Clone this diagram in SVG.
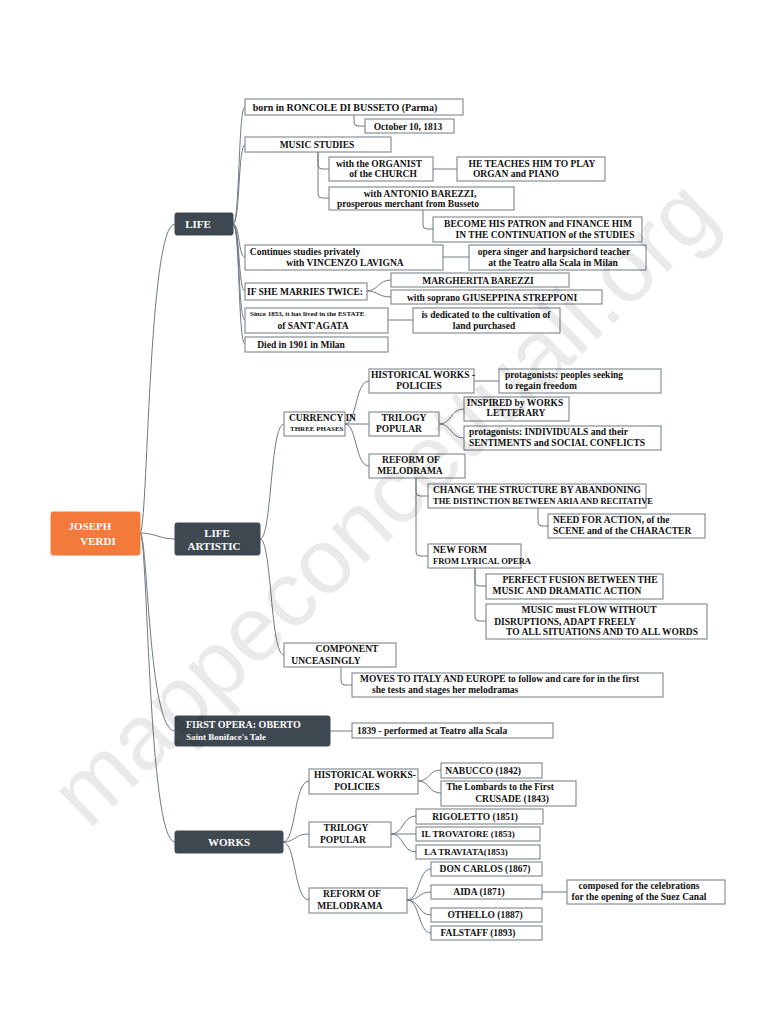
<svg xmlns="http://www.w3.org/2000/svg" width="768" height="1024" viewBox="0 0 768 1024">
<style>
.b{fill:#fff;stroke:#6e7a82;stroke-width:1}
.d{fill:#3e4850;stroke:#3e4850}
.o{fill:#f47a3c;stroke:#f47a3c}
text{font-family:"Liberation Serif",serif;font-weight:bold;font-size:9.5px;fill:#111;text-anchor:middle}
.w{fill:#fff;font-size:11px}
.l{text-anchor:start}
.s{font-size:7px}
#conn path{fill:none;stroke:#6e7a82;stroke-width:1}
</style>
<rect width="768" height="1024" fill="#fff"/>
<g id="conn">
<path d="M140 533 C148 533 148 224 175 224"/>
<path d="M140 533 C155 533 160 539 175 539"/>
<path d="M140 533 C148 533 148 731 175 731"/>
<path d="M140 533 C148 533 148 842 175 842"/>
<path d="M233 224 C240 224 238 107 245 107"/>
<path d="M233 224 C240 224 238 145 245 145"/>
<path d="M233 224 C240 224 238 257 245 257"/>
<path d="M233 224 C240 224 238 291 245 291"/>
<path d="M233 224 C240 224 238 320 245 320"/>
<path d="M233 224 C240 224 238 344 245 344"/>
<path d="M354 115 V122 Q354 126 358 126 H365"/>
<path d="M318 152 V165 Q318 169 322 169 H329"/>
<path d="M318 152 V194 Q318 198 322 198 H329"/>
<path d="M423 210 V225 Q423 229 427 229 H433"/>
<path d="M433 169 H457"/>
<path d="M443 257 H469"/>
<path d="M367 291 C378 291 378 280 391 280"/>
<path d="M367 291 C378 291 378 297 391 297"/>
<path d="M388 320 H413"/>
<path d="M260 539 C272 539 270 424 284 424"/>
<path d="M260 539 C272 539 270 655 284 655"/>
<path d="M345 424 C357 424 355 381 369 381"/>
<path d="M345 424 H369"/>
<path d="M345 424 C357 424 355 466 369 466"/>
<path d="M474 381 H499"/>
<path d="M439 424 C452 424 450 409 464 409"/>
<path d="M439 424 C452 424 450 438 464 438"/>
<path d="M416 478 V492 Q416 496 420 496 H428"/>
<path d="M416 478 V552 Q416 556 420 556 H428"/>
<path d="M538 508 V522 Q538 526 542 526 H548"/>
<path d="M475 568 V582 Q475 586 479 586 H486"/>
<path d="M475 568 V617 Q475 621 479 621 H486"/>
<path d="M341 667 V681 Q341 685 345 685 H352"/>
<path d="M330 731 H352"/>
<path d="M283 842 C296 842 294 781 309 781"/>
<path d="M283 842 C296 842 294 834 309 834"/>
<path d="M283 842 C296 842 294 900 309 900"/>
<path d="M418 781 C430 781 428 770 441 770"/>
<path d="M418 781 C430 781 428 793 441 793"/>
<path d="M391 834 C404 834 402 816 416 816"/>
<path d="M391 834 H416"/>
<path d="M391 834 C404 834 402 852 416 852"/>
<path d="M407 900 C420 900 418 869 431 869"/>
<path d="M407 900 C420 900 418 892 431 892"/>
<path d="M407 900 C420 900 418 915 431 915"/>
<path d="M407 900 C420 900 418 933 431 933"/>
<path d="M542 892 H567"/>
</g>
<g id="root"><rect class="o" x="51" y="512" width="89" height="43" rx="2"/><text class="w" x="90" y="530">JOSEPH</text><text class="w" x="98" y="545">VERDI</text></g>
<g id="life"><rect class="d" x="175" y="213" width="58" height="22" rx="2"/><text class="w" x="198" y="228">LIFE</text></g>
<g id="artistic"><rect class="d" x="175" y="523" width="85" height="32" rx="2"/><text class="w" x="217" y="537">LIFE</text><text class="w" x="214" y="550">ARTISTIC</text></g>
<g id="first"><rect class="d" x="175" y="716" width="155" height="30" rx="2"/><text class="w l" x="186" y="728" style="font-size:10px">FIRST OPERA: OBERTO</text><text class="w l" x="186" y="740" style="font-size:9px">Saint Boniface's Tale</text></g>
<g id="works"><rect class="d" x="175" y="831" width="108" height="22" rx="2"/><text class="w" x="229" y="846">WORKS</text></g>

<g id="born"><rect class="b" x="245" y="99" width="218" height="16"/><text x="345" y="111" style="font-size:10px">born in RONCOLE DI BUSSETO (Parma)</text></g>
<g id="oct"><rect class="b" x="365" y="119" width="89" height="14"/><text x="408" y="130">October 10, 1813</text></g>
<g id="music"><rect class="b" x="245" y="137" width="146" height="15"/><text x="317" y="148">MUSIC STUDIES</text></g>
<g id="organist"><rect class="b" x="329" y="157" width="104" height="24"/><text x="379" y="167">with the ORGANIST</text><text x="383" y="177">of the CHURCH</text></g>
<g id="teaches"><rect class="b" x="457" y="157" width="148" height="24"/><text x="532" y="167">HE TEACHES HIM TO PLAY</text><text x="516" y="177">ORGAN and PIANO</text></g>
<g id="antonio"><rect class="b" x="329" y="187" width="185" height="23"/><text x="420" y="197">with ANTONIO BAREZZI,</text><text x="408" y="207">prosperous merchant from Busseto</text></g>
<g id="patron"><rect class="b" x="433" y="217" width="209" height="25"/><text x="538" y="227">BECOME HIS PATRON and FINANCE HIM</text><text x="545" y="238">IN THE CONTINUATION of the STUDIES</text></g>
<g id="cont"><rect class="b" x="245" y="245" width="198" height="25"/><text x="305" y="255">Continues studies privately</text><text x="345" y="266">with VINCENZO LAVIGNA</text></g>
<g id="singer"><rect class="b" x="469" y="245" width="177" height="25"/><text x="554" y="255">opera singer and harpsichord teacher</text><text x="553" y="266">at the Teatro alla Scala in Milan</text></g>
<g id="ifshe"><rect class="b" x="245" y="283" width="122" height="17"/><text x="305" y="295">IF SHE MARRIES TWICE:</text></g>
<g id="marg"><rect class="b" x="391" y="273" width="178" height="14"/><text x="478" y="284">MARGHERITA BAREZZI</text></g>
<g id="gius"><rect class="b" x="391" y="290" width="211" height="14"/><text x="492" y="301">with soprano GIUSEPPINA STREPPONI</text></g>
<g id="since"><rect class="b" x="245" y="308" width="143" height="25"/><text class="l s" x="250" y="316">Since 1853, it has lived in the ESTATE</text><text x="313" y="329">of SANT'AGATA</text></g>
<g id="dedic"><rect class="b" x="413" y="308" width="147" height="25"/><text x="486" y="318">is dedicated to the cultivation of</text><text x="484" y="329">land purchased</text></g>
<g id="died"><rect class="b" x="245" y="337" width="143" height="15"/><text x="301" y="348">Died in 1901 in Milan</text></g>

<g id="currency"><rect class="b" x="284" y="412" width="61" height="24"/><text class="l" x="289" y="421">CURRENCY IN</text><text class="l s" x="290" y="431">THREE PHASES</text></g>
<g id="hist"><rect class="b" x="369" y="369" width="105" height="24"/><text x="423" y="378">HISTORICAL WORKS -</text><text x="419" y="389">POLICIES</text></g>
<g id="peoples"><rect class="b" x="499" y="369" width="162" height="24"/><text class="l" x="505" y="378">protagonists: peoples seeking</text><text class="l" x="505" y="389">to regain freedom</text></g>
<g id="trilogy"><rect class="b" x="369" y="412" width="70" height="24"/><text x="404" y="421">TRILOGY</text><text x="399" y="432">POPULAR</text></g>
<g id="inspired"><rect class="b" x="464" y="397" width="105" height="24"/><text x="515" y="406">INSPIRED by WORKS</text><text x="516" y="416">LETTERARY</text></g>
<g id="indiv"><rect class="b" x="464" y="426" width="197" height="24"/><text class="l" x="469" y="435">protagonists: INDIVIDUALS and their</text><text class="l" x="469" y="446">SENTIMENTS and SOCIAL CONFLICTS</text></g>
<g id="reform"><rect class="b" x="369" y="454" width="96" height="24"/><text x="411" y="463">REFORM OF</text><text x="410" y="474">MELODRAMA</text></g>
<g id="change"><rect class="b" x="428" y="484" width="218" height="24"/><text class="l" x="433" y="493">CHANGE THE STRUCTURE BY ABANDONING</text><text class="l" x="433" y="504" style="font-size:8.5px">THE DISTINCTION BETWEEN ARIA AND RECITATIVE</text></g>
<g id="need"><rect class="b" x="548" y="514" width="157" height="24"/><text class="l" x="553" y="523">NEED FOR ACTION, of the</text><text class="l" x="553" y="534">SCENE and of the CHARACTER</text></g>
<g id="newform"><rect class="b" x="428" y="544" width="93" height="24"/><text class="l" x="433" y="553">NEW FORM</text><text class="l" x="433" y="564" style="font-size:8.5px">FROM LYRICAL OPERA</text></g>
<g id="perfect"><rect class="b" x="486" y="574" width="177" height="25"/><text x="580" y="583">PERFECT FUSION BETWEEN THE</text><text x="567" y="594">MUSIC AND DRAMATIC ACTION</text></g>
<g id="flow"><rect class="b" x="486" y="604" width="221" height="35"/><text x="589" y="613">MUSIC must FLOW WITHOUT</text><text x="565" y="625">DISRUPTIONS, ADAPT FREELY</text><text x="602" y="635">TO ALL SITUATIONS AND TO ALL WORDS</text></g>
<g id="component"><rect class="b" x="284" y="643" width="112" height="24"/><text x="347" y="652">COMPONENT</text><text x="326" y="664">UNCEASINGLY</text></g>
<g id="moves"><rect class="b" x="352" y="673" width="311" height="24"/><text class="l" x="360" y="682">MOVES TO ITALY AND EUROPE to follow and care for in the first</text><text class="l" x="372" y="693">she tests and stages her melodramas</text></g>
<g id="y1839"><rect class="b" x="352" y="723" width="201" height="15"/><text class="l" x="357" y="734">1839 - performed at Teatro alla Scala</text></g>

<g id="whist"><rect class="b" x="309" y="769" width="109" height="25"/><text x="365" y="778">HISTORICAL WORKS-</text><text x="357" y="790">POLICIES</text></g>
<g id="nabucco"><rect class="b" x="441" y="763" width="101" height="15"/><text x="483" y="774">NABUCCO  (1842)</text></g>
<g id="lombards"><rect class="b" x="441" y="781" width="135" height="25"/><text x="500" y="790">The Lombards to the First</text><text x="512" y="802">CRUSADE  (1843)</text></g>
<g id="wtril"><rect class="b" x="309" y="822" width="82" height="25"/><text x="346" y="831">TRILOGY</text><text x="343" y="843">POPULAR</text></g>
<g id="rigo"><rect class="b" x="416" y="809" width="127" height="15"/><text x="475" y="820">RIGOLETTO  (1851)</text></g>
<g id="trov"><rect class="b" x="416" y="827" width="124" height="14"/><text x="468" y="837" style="font-size:9px">IL TROVATORE (1853)</text></g>
<g id="trav"><rect class="b" x="416" y="845" width="124" height="14"/><text x="466" y="855" style="font-size:9px">LA TRAVIATA(1853)</text></g>
<g id="wref"><rect class="b" x="309" y="888" width="98" height="25"/><text x="352" y="897">REFORM OF</text><text x="350" y="909">MELODRAMA</text></g>
<g id="don"><rect class="b" x="431" y="862" width="111" height="14"/><text x="485" y="872">DON CARLOS (1867)</text></g>
<g id="aida"><rect class="b" x="431" y="885" width="111" height="14"/><text x="479" y="895">AIDA (1871)</text></g>
<g id="suez"><rect class="b" x="567" y="880" width="158" height="24"/><text x="639" y="889">composed for the celebrations</text><text x="639" y="900">for the opening of the Suez Canal</text></g>
<g id="oth"><rect class="b" x="431" y="908" width="111" height="14"/><text x="485" y="918">OTHELLO (1887)</text></g>
<g id="fal"><rect class="b" x="431" y="926" width="111" height="14"/><text x="478" y="936">FALSTAFF (1893)</text></g>

<text x="0" y="0" transform="translate(405,525) rotate(-44)" style="font-family:'Liberation Sans',sans-serif;font-weight:normal;font-size:92px;fill:#000;opacity:0.08" textLength="880" lengthAdjust="spacingAndGlyphs">mappeconcettuali.org</text>
</svg>
